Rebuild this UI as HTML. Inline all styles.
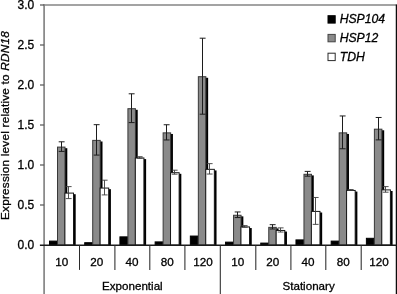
<!DOCTYPE html>
<html><head><meta charset="utf-8"><title>Expression chart</title>
<style>html,body{margin:0;padding:0;background:#fff}svg{display:block}text{font-family:"Liberation Sans",Arial,Helvetica,sans-serif;fill:#000;stroke:#000;stroke-width:0.3px}</style></head><body>
<svg width="397" height="294" viewBox="0 0 397 294">
<rect width="397" height="294" fill="#fff"/>
<line x1="43.300000000000004" y1="5.0" x2="396.8" y2="5.0" stroke="#858585" stroke-width="1.6"/>
<line x1="44.1" y1="4.2" x2="44.1" y2="294" stroke="#858585" stroke-width="1.7"/>
<line x1="396.4" y1="4.6" x2="396.4" y2="294" stroke="#0c0c0c" stroke-width="1.3"/>
<text x="34.3" y="249.20" font-size="12" text-anchor="end">0.0</text>
<line x1="40" y1="205.00" x2="44.1" y2="205.00" stroke="#5a5a5a" stroke-width="1.25"/>
<text x="34.3" y="209.20" font-size="12" text-anchor="end">0.5</text>
<line x1="40" y1="165.00" x2="44.1" y2="165.00" stroke="#5a5a5a" stroke-width="1.25"/>
<text x="34.3" y="169.20" font-size="12" text-anchor="end">1.0</text>
<line x1="40" y1="125.00" x2="44.1" y2="125.00" stroke="#5a5a5a" stroke-width="1.25"/>
<text x="34.3" y="129.20" font-size="12" text-anchor="end">1.5</text>
<line x1="40" y1="85.00" x2="44.1" y2="85.00" stroke="#5a5a5a" stroke-width="1.25"/>
<text x="34.3" y="89.20" font-size="12" text-anchor="end">2.0</text>
<line x1="40" y1="45.00" x2="44.1" y2="45.00" stroke="#5a5a5a" stroke-width="1.25"/>
<text x="34.3" y="49.20" font-size="12" text-anchor="end">2.5</text>
<line x1="40" y1="5.00" x2="44.1" y2="5.00" stroke="#5a5a5a" stroke-width="1.25"/>
<text x="34.3" y="9.20" font-size="12" text-anchor="end">3.0</text>
<rect x="49.50" y="241.10" width="7.50" height="3.90" fill="#000" stroke="#000" stroke-width="1"/>
<rect x="59.00" y="148.20" width="8.30" height="96.80" fill="#000"/>
<rect x="57.50" y="147.10" width="7.50" height="97.90" fill="#8a8a8a" stroke="#383838" stroke-width="1"/>
<path d="M61.50 141.80V151.40M58.70 141.80H64.60M58.70 151.40H64.60" stroke="#1c1c1c" stroke-width="1" fill="none"/>
<rect x="66.40" y="194.20" width="9.30" height="50.80" fill="#000"/>
<rect x="64.90" y="193.10" width="8.60" height="51.90" fill="#fff" stroke="#161616" stroke-width="1"/>
<path d="M68.50 186.60V198.60M65.70 186.60H71.60M65.70 198.60H71.60" stroke="#3c3c3c" stroke-width="0.9" fill="none"/>
<rect x="84.71" y="242.70" width="7.50" height="2.30" fill="#000" stroke="#000" stroke-width="1"/>
<rect x="94.21" y="141.48" width="8.30" height="103.52" fill="#000"/>
<rect x="92.71" y="140.38" width="7.50" height="104.62" fill="#8a8a8a" stroke="#383838" stroke-width="1"/>
<path d="M96.50 124.68V155.08M93.70 124.68H99.60M93.70 155.08H99.60" stroke="#1c1c1c" stroke-width="1" fill="none"/>
<rect x="101.61" y="189.16" width="9.30" height="55.84" fill="#000"/>
<rect x="100.11" y="188.06" width="8.60" height="56.94" fill="#fff" stroke="#161616" stroke-width="1"/>
<path d="M104.50 180.20V194.92M101.70 180.20H107.60M101.70 194.92H107.60" stroke="#3c3c3c" stroke-width="0.9" fill="none"/>
<rect x="119.92" y="236.86" width="7.50" height="8.14" fill="#000" stroke="#000" stroke-width="1"/>
<rect x="129.42" y="109.80" width="8.30" height="135.20" fill="#000"/>
<rect x="127.92" y="108.70" width="7.50" height="136.30" fill="#8a8a8a" stroke="#383838" stroke-width="1"/>
<path d="M131.50 93.80V122.60M128.70 93.80H134.60M128.70 122.60H134.60" stroke="#1c1c1c" stroke-width="1" fill="none"/>
<rect x="136.82" y="159.08" width="9.30" height="85.92" fill="#000"/>
<rect x="135.32" y="157.98" width="8.60" height="87.02" fill="#fff" stroke="#161616" stroke-width="1"/>
<path d="M139.50 156.68V158.28M136.70 156.68H142.60M136.70 158.28H142.60" stroke="#3c3c3c" stroke-width="0.9" fill="none"/>
<rect x="155.13" y="241.90" width="7.50" height="3.10" fill="#000" stroke="#000" stroke-width="1"/>
<rect x="164.63" y="133.96" width="8.30" height="111.04" fill="#000"/>
<rect x="163.13" y="132.86" width="7.50" height="112.14" fill="#8a8a8a" stroke="#383838" stroke-width="1"/>
<path d="M166.50 124.76V139.96M163.70 124.76H169.60M163.70 139.96H169.60" stroke="#1c1c1c" stroke-width="1" fill="none"/>
<rect x="172.03" y="173.80" width="9.30" height="71.20" fill="#000"/>
<rect x="170.53" y="172.70" width="8.60" height="72.30" fill="#fff" stroke="#161616" stroke-width="1"/>
<path d="M174.50 170.20V174.20M171.70 170.20H177.60M171.70 174.20H177.60" stroke="#3c3c3c" stroke-width="0.9" fill="none"/>
<rect x="190.34" y="236.06" width="7.50" height="8.94" fill="#000" stroke="#000" stroke-width="1"/>
<rect x="199.84" y="77.80" width="8.30" height="167.20" fill="#000"/>
<rect x="198.34" y="76.70" width="7.50" height="168.30" fill="#8a8a8a" stroke="#383838" stroke-width="1"/>
<path d="M202.50 38.20V114.20M199.70 38.20H205.60M199.70 114.20H205.60" stroke="#1c1c1c" stroke-width="1" fill="none"/>
<rect x="207.24" y="170.44" width="9.30" height="74.56" fill="#000"/>
<rect x="205.74" y="169.34" width="8.60" height="75.66" fill="#fff" stroke="#161616" stroke-width="1"/>
<path d="M209.50 163.64V174.04M206.70 163.64H212.60M206.70 174.04H212.60" stroke="#3c3c3c" stroke-width="0.9" fill="none"/>
<rect x="225.55" y="242.14" width="7.50" height="2.86" fill="#000" stroke="#000" stroke-width="1"/>
<rect x="235.05" y="216.36" width="8.30" height="28.64" fill="#000"/>
<rect x="233.55" y="215.26" width="7.50" height="29.74" fill="#8a8a8a" stroke="#383838" stroke-width="1"/>
<path d="M237.50 211.96V217.56M234.70 211.96H240.60M234.70 217.56H240.60" stroke="#1c1c1c" stroke-width="1" fill="none"/>
<rect x="242.45" y="228.04" width="9.30" height="16.96" fill="#000"/>
<rect x="240.95" y="226.94" width="8.60" height="18.06" fill="#fff" stroke="#161616" stroke-width="1"/>
<path d="M244.50 225.64V227.24M241.70 225.64H247.60M241.70 227.24H247.60" stroke="#3c3c3c" stroke-width="0.9" fill="none"/>
<rect x="260.76" y="243.10" width="7.50" height="1.90" fill="#000" stroke="#000" stroke-width="1"/>
<rect x="270.26" y="228.44" width="8.30" height="16.56" fill="#000"/>
<rect x="268.76" y="227.34" width="7.50" height="17.66" fill="#8a8a8a" stroke="#383838" stroke-width="1"/>
<path d="M272.50 224.68V229.00M269.70 224.68H275.60M269.70 229.00H275.60" stroke="#1c1c1c" stroke-width="1" fill="none"/>
<rect x="277.66" y="231.56" width="9.30" height="13.44" fill="#000"/>
<rect x="276.16" y="230.46" width="8.60" height="14.54" fill="#fff" stroke="#161616" stroke-width="1"/>
<path d="M280.50 227.88V232.04M277.70 227.88H283.60M277.70 232.04H283.60" stroke="#3c3c3c" stroke-width="0.9" fill="none"/>
<rect x="295.97" y="239.90" width="7.50" height="5.10" fill="#000" stroke="#000" stroke-width="1"/>
<rect x="305.47" y="175.40" width="8.30" height="69.60" fill="#000"/>
<rect x="303.97" y="174.30" width="7.50" height="70.70" fill="#8a8a8a" stroke="#383838" stroke-width="1"/>
<path d="M307.50 171.40V176.20M304.70 171.40H310.60M304.70 176.20H310.60" stroke="#1c1c1c" stroke-width="1" fill="none"/>
<rect x="312.87" y="212.52" width="9.30" height="32.48" fill="#000"/>
<rect x="311.37" y="211.42" width="8.60" height="33.58" fill="#fff" stroke="#161616" stroke-width="1"/>
<path d="M315.50 197.48V224.36M312.70 197.48H318.60M312.70 224.36H318.60" stroke="#3c3c3c" stroke-width="0.9" fill="none"/>
<rect x="331.18" y="241.10" width="7.50" height="3.90" fill="#000" stroke="#000" stroke-width="1"/>
<rect x="340.68" y="133.96" width="8.30" height="111.04" fill="#000"/>
<rect x="339.18" y="132.86" width="7.50" height="112.14" fill="#8a8a8a" stroke="#383838" stroke-width="1"/>
<path d="M342.50 115.96V148.76M339.70 115.96H345.60M339.70 148.76H345.60" stroke="#1c1c1c" stroke-width="1" fill="none"/>
<rect x="348.08" y="191.56" width="9.30" height="53.44" fill="#000"/>
<rect x="346.58" y="190.46" width="8.60" height="54.54" fill="#fff" stroke="#161616" stroke-width="1"/>
<path d="M350.50 189.56V190.36M347.70 189.56H353.60M347.70 190.36H353.60" stroke="#3c3c3c" stroke-width="0.9" fill="none"/>
<rect x="366.39" y="238.30" width="7.50" height="6.70" fill="#000" stroke="#000" stroke-width="1"/>
<rect x="375.89" y="130.28" width="8.30" height="114.72" fill="#000"/>
<rect x="374.39" y="129.18" width="7.50" height="115.82" fill="#8a8a8a" stroke="#383838" stroke-width="1"/>
<path d="M378.50 117.48V139.88M375.70 117.48H381.60M375.70 139.88H381.60" stroke="#1c1c1c" stroke-width="1" fill="none"/>
<rect x="383.29" y="191.00" width="9.30" height="54.00" fill="#000"/>
<rect x="381.79" y="189.90" width="8.60" height="55.10" fill="#fff" stroke="#161616" stroke-width="1"/>
<path d="M385.50 186.60V192.20M382.70 186.60H388.60M382.70 192.20H388.60" stroke="#3c3c3c" stroke-width="0.9" fill="none"/>
<line x1="39.9" y1="245.2" x2="396.8" y2="245.2" stroke="#1a1a1a" stroke-width="1.4"/>
<line x1="79.50" y1="245.0" x2="79.50" y2="269.9" stroke="#2a2a2a" stroke-width="1.05"/>
<line x1="114.90" y1="245.0" x2="114.90" y2="269.9" stroke="#2a2a2a" stroke-width="1.05"/>
<line x1="149.80" y1="245.0" x2="149.80" y2="269.9" stroke="#2a2a2a" stroke-width="1.05"/>
<line x1="184.90" y1="245.0" x2="184.90" y2="269.9" stroke="#2a2a2a" stroke-width="1.05"/>
<line x1="220.30" y1="245.0" x2="220.30" y2="294" stroke="#2a2a2a" stroke-width="1.05"/>
<line x1="255.80" y1="245.0" x2="255.80" y2="269.9" stroke="#2a2a2a" stroke-width="1.05"/>
<line x1="290.90" y1="245.0" x2="290.90" y2="269.9" stroke="#2a2a2a" stroke-width="1.05"/>
<line x1="325.80" y1="245.0" x2="325.80" y2="269.9" stroke="#2a2a2a" stroke-width="1.05"/>
<line x1="361.20" y1="245.0" x2="361.20" y2="269.9" stroke="#2a2a2a" stroke-width="1.05"/>
<text x="61.80" y="266.4" font-size="11.7" text-anchor="middle">10</text>
<text x="96.81" y="266.4" font-size="11.7" text-anchor="middle">20</text>
<text x="132.02" y="266.4" font-size="11.7" text-anchor="middle">40</text>
<text x="167.23" y="266.4" font-size="11.7" text-anchor="middle">80</text>
<text x="202.94" y="266.4" font-size="11.7" text-anchor="middle">120</text>
<text x="237.86" y="266.4" font-size="11.7" text-anchor="middle">10</text>
<text x="272.87" y="266.4" font-size="11.7" text-anchor="middle">20</text>
<text x="308.07" y="266.4" font-size="11.7" text-anchor="middle">40</text>
<text x="343.29" y="266.4" font-size="11.7" text-anchor="middle">80</text>
<text x="379.00" y="266.4" font-size="11.7" text-anchor="middle">120</text>
<text x="132.4" y="289.7" font-size="11.6" text-anchor="middle">Exponential</text>
<text x="308.6" y="289.7" font-size="11.6" text-anchor="middle">Stationary</text>
<text transform="translate(9.4 220.0) rotate(-90)" font-size="11.8" textLength="188.8" lengthAdjust="spacing">Expression level relative to <tspan font-style="italic">RDN18</tspan></text>
<rect x="328" y="15.7" width="7.2" height="7.4" fill="#000" stroke="#000" stroke-width="1"/>
<text x="339.7" y="23.25" font-size="12.2" font-style="italic">HSP104</text>
<rect x="328" y="34.4" width="7.2" height="7.4" fill="#8a8a8a" stroke="#444" stroke-width="1"/>
<text x="339.7" y="41.95" font-size="12.2" font-style="italic">HSP12</text>
<rect x="328" y="53.2" width="7.2" height="7.4" fill="#fff" stroke="#2a2a2a" stroke-width="1"/>
<text x="339.7" y="60.75" font-size="12.2" font-style="italic">TDH</text>
</svg></body></html>
